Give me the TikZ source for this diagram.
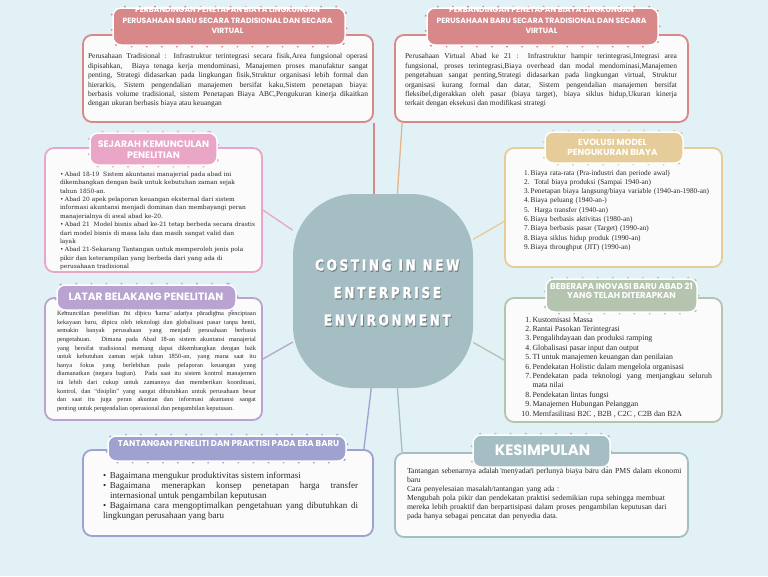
\documentclass[tikz,border=0pt]{standalone}
\usepackage{fontspec}
\setmainfont{Liberation Serif}
\newfontfamily\hdfont{Poppins}
\newfontfamily\sjfont{DejaVu Serif}
\newfontfamily\ctfont{DejaVu Sans}[FakeStretch=0.8,LetterSpace=18,FakeBold=1.2]
\usepackage{tikz}
\usetikzlibrary{calc}
\definecolor{BgBlue}{HTML}{E2F1F6}
\definecolor{BoxFill}{HTML}{FBFBFB}
\definecolor{TxtDark}{HTML}{2A2A2A}
\definecolor{Rose}{HTML}{D9888A}
\definecolor{Apricot}{HTML}{E3B58C}
\definecolor{Pink}{HTML}{E9A6C6}
\definecolor{Lilac}{HTML}{B9A3D1}
\definecolor{Peri}{HTML}{9FA1CF}
\definecolor{Sand}{HTML}{E5CC98}
\definecolor{Sage}{HTML}{B5C4AF}
\definecolor{Teal}{HTML}{A4BEC4}
\pgfdeclarelayer{bg}\pgfdeclarelayer{links}
\pgfsetlayers{bg,links,main}
\newcommand{\fs}[2]{\fontsize{#1}{#2}\selectfont}
\newcommand{\hdf}[2]{\hdfont\bfseries\fontsize{#1}{#2}\selectfont}
\newcommand{\butir}[2][6pt]{\par\hangindent=#1\hangafter=1\noindent\makebox[#1][l]{\textbullet}#2}
\newcommand{\nomor}[2]{\par\hangindent=12.5pt\hangafter=1\noindent\makebox[12.5pt][r]{#1.\,}#2}

\begin{document}
\begin{tikzpicture}[
        x=1pt, y=-1pt,
        box/.style={draw=#1, line width=1.8pt, fill=BoxFill, rounded corners=9pt},
        tab/.style={fill=#1, draw=white, line width=1.5pt, rounded corners=8pt,
                    preaction={draw=#1, line width=4.5pt, dash pattern=on 1.6pt off 13.5pt}},
        hd/.style={align=center, text=white, inner sep=0pt},
        txt/.style={text width=#1, align=justify, inner sep=0pt, text=TxtDark},
        ln/.style={draw=#1, line width=1.3pt},
      ]
        \useasboundingbox (0,0) rectangle (768,576);
        \begin{pgfonlayer}{bg}
          \fill[BgBlue] (0,0) rectangle (768,576);
        \end{pgfonlayer}
        % pusat
        \node[fill=Teal, rounded corners=62pt, minimum width=180, minimum height=194] (centre) at (383,291) {};
        \node[font=\ctfont\bfseries\fs{15}{27.5}, align=center, text=black!65, opacity=0.5] (ctshadow) at (388.2,293.8) {COSTING IN NEW\\ENTERPRISE\\ENVIRONMENT};
        \node[font=\ctfont\bfseries\fs{15}{27.5}, align=center, text=white] (ctitle) at (387.3,292.5) {COSTING IN NEW\\ENTERPRISE\\ENVIRONMENT};
        % kotak isi
        \node[box=Rose, minimum width=290, minimum height=87] (tl) at (228,78.5) {};
        \node[box=Rose, minimum width=293, minimum height=87] (tr) at (541.5,78.5) {};
        \node[box=Pink, minimum width=217, minimum height=124] (sj) at (153.5,210) {};
        \node[box=Lilac, minimum width=217, minimum height=122] (lt) at (153.5,359) {};
        \node[box=Peri, minimum width=290, minimum height=86] (tt) at (228,493) {};
        \node[box=Sand, minimum width=217, minimum height=119] (ev) at (613.5,207.5) {};
        \node[box=Sage, minimum width=217, minimum height=124] (inv) at (613.5,360) {};
        \node[box=Teal, minimum width=293, minimum height=84] (ks) at (541.5,495) {};
        % garis penghubung
        \begin{pgfonlayer}{links}
          \draw[ln=Rose] (tl.south east) -- ($(centre.north -| tl.south east)+(0,6)$);
          \draw[ln=Apricot] ($(tr.south west)+(8,0)$) -- ($(centre.north)+(14,6)$);
          \draw[ln=Pink] (sj.east) -- (centre);
          \draw[ln=Lilac] (lt.east) -- (centre);
          \draw[ln=Sand] ($(ev.west)+(0,14)$) -- (centre);
          \draw[ln=Sage] (inv.west) -- (centre);
          \draw[ln=Peri] ($(tt.north east)+(-10,0)$) -- ($(centre.south)+(-11,-6)$);
          \draw[ln=Teal] ($(ks.north west)+(8,0)$) -- ($(centre.south)+(14,-6)$);
        \end{pgfonlayer}
        % tab judul
        \node[tab=Rose, minimum width=232, minimum height=37] (tltab) at (229,26.5) {};
        \node[tab=Rose, minimum width=231, minimum height=37] (trtab) at (542.5,26.5) {};
        \node[tab=Pink, minimum width=127, minimum height=32] (sjtab) at (153.5,149) {};
        \node[tab=Lilac, minimum width=179, minimum height=25] (lttab) at (146.5,297.5) {};
        \node[tab=Peri, minimum width=238, minimum height=25] (tttab) at (227,448.5) {};
        \node[tab=Sand, minimum width=138, minimum height=31] (evtab) at (614,147.5) {};
        \node[tab=Sage, minimum width=151, minimum height=33] (invtab) at (621.5,295.5) {};
        \node[tab=Teal, minimum width=137, minimum height=32] (kstab) at (541.5,451) {};
        \node[hd, font=\hdf{7.6}{10.5}] (tlhd) at (227.5,20.5) {PERBANDINGAN PENETAPAN BIAYA LINGKUNGAN\\PERUSAHAAN BARU SECARA TRADISIONAL DAN SECARA\\VIRTUAL};
        \node[hd, font=\hdf{7.6}{10.5}] (trhd) at (541.5,20.5) {PERBANDINGAN PENETAPAN BIAYA LINGKUNGAN\\PERUSAHAAN BARU SECARA TRADISIONAL DAN SECARA\\VIRTUAL};
        \node[hd, font=\hdf{9.4}{11}] (sjhd) at (153.5,149.5) {SEJARAH KEMUNCULAN\\PENELITIAN};
        \node[hd, font=\hdf{10.6}{11}] (lthd) at (146,297) {LATAR BELAKANG PENELITIAN};
        \node[hd, font=\hdf{8.5}{9}] (tthd) at (228.5,443.5) {TANTANGAN PENELITI DAN PRAKTISI PADA ERA BARU};
        \node[hd, font=\hdf{8.8}{10}] (evhd) at (612.5,147) {EVOLUSI MODEL\\PENGUKURAN BIAYA};
        \node[hd, font=\hdf{8.5}{9}] (invhd) at (621.5,291) {BEBERAPA INOVASI BARU ABAD 21\\YANG TELAH DITERAPKAN};
        \node[hd, font=\hdf{15}{16}] (kshd) at (542.5,450) {KESIMPULAN};
        % teks
        \node[txt=280, font=\fs{7.5}{9.4}] (tltxt) at (228,80.5) {Perusahaan Tradisional : Infrastruktur terintegrasi secara fisik,Area fungsional operasi\linebreak dipisahkan,\ \ Biaya tenaga kerja mendominasi, Manajemen proses manufaktur sangat\linebreak penting, Strategi didasarkan pada lingkungan fisik,Struktur organisasi lebih formal dan\linebreak hierarkis, Sistem pengendalian manajemen bersifat kaku,Sistem penetapan biaya:\linebreak berbasis volume tradisional, sistem Penetapan Biaya ABC,Pengukuran kinerja dikaitkan\linebreak dengan ukuran berbasis biaya atau keuangan};
        \node[txt=272, font=\fs{7.5}{9.4}] (trtxt) at (541,80.5) {Perusahaan Virtual Abad ke 21 : Infrastruktur hampir terintegrasi,Integrasi area\linebreak fungsional, proses terintegrasi,Biaya overhead dan modal mendominasi,Manajemen\linebreak pengetahuan sangat penting,Strategi didasarkan pada lingkungan virtual, Struktur\linebreak organisasi kurang formal dan datar, Sistem pengendalian manajemen bersifat\linebreak fleksibel,digerakkan oleh pasar (biaya target), biaya siklus hidup,Ukuran kinerja\linebreak terkait dengan eksekusi dan modifikasi strategi};
        \node[txt=200, align=left, font=\sjfont\fs{5.9}{8.4}] (sjtxt) at (160,219) {%
          \butir[5pt]{Abad 18-19\ \ Sistem akuntansi manajerial pada abad ini\\dikembangkan dengan baik untuk kebutuhan zaman sejak\\tahun 1850-an.}%
          \butir[5pt]{Abad 20 apek pelaporan keuangan eksternal dari sistem\\informasi akuntansi menjadi dominan dan membayangi peran\\manajerialnya di awal abad ke-20.}%
          \butir[5pt]{Abad 21\ \ Model bisnis abad ke-21 tetap berbeda secara drastis\\dari model bisnis di masa lalu dan masih sangat valid dan\\layak}%
          \butir[5pt]{Abad 21-Sekarang Tantangan untuk memperoleh jenis pola\\pikir dan keterampilan yang berbeda dari yang ada di\\perusahaan tradisional}};
        \node[txt=199, font=\fs{6.4}{8.6}] (lttxt) at (156.5,361.5) {Kemunculan penelitian ini dipicu karna adanya paradigma penciptaan\linebreak kekayaan baru, dipicu oleh teknologi dan globalisasi pasar tanpa henti,\linebreak semakin banyak perusahaan yang menjadi perusahaan berbasis\linebreak pengetahuan. Dimana pada Abad 18-an sistem akuntansi manajerial\linebreak yang bersifat tradisional memang dapat dikembangkan dengan baik\linebreak untuk kebutuhan zaman sejak tahun 1850-an, yang mana saat itu\linebreak hanya fokus yang berlebihan pada pelaporan keuangan yang\linebreak diamanatkan (negara bagian). Pada saat itu sistem kontrol manajemen\linebreak ini lebih dari cukup untuk zamannya dan memberikan koordinasi,\linebreak kontrol, dan ``disiplin'' yang sangat dibutuhkan untuk perusahaan besar\linebreak dan saat itu juga peran akuntan dan informasi akuntansi sangat\linebreak penting untuk pengendalian operasional dan pengambilan keputusan.};
        \node[txt=255, font=\fs{9}{10}] (tttxt) at (230.5,494.5) {%
          \butir[7pt]{Bagaimana mengukur produktivitas sistem informasi}%
          \butir[7pt]{Bagaimana menerapkan konsep penetapan harga transfer\linebreak internasional untuk pengambilan keputusan}%
          \butir[7pt]{Bagaimana cara mengoptimalkan pengetahuan yang dibutuhkan di\linebreak lingkungan perusahaan yang baru}};
        \node[txt=198, align=left, font=\fs{7.3}{9.3}] (evtxt) at (623,210.5) {1.\,Biaya rata-rata (Pra-industri dan periode awal)\\2.\ \ Total biaya produksi (Sampai 1940-an)\\3.\,Penetapan biaya langsung/biaya variable (1940-an-1980-an)\\4.\,Biaya peluang (1940-an-)\\5.\ \ Harga transfer (1940-an)\\6.\,Biaya berbasis aktivitas (1980-an)\\7.\,Biaya berbasis pasar (Target) (1990-an)\\8.\,Biaya siklus hidup produk (1990-an)\\9.\,Biaya throughput (JIT) (1990-an)};
        \node[txt=192, font=\fs{7.8}{9.4}] (invtxt) at (616,365) {%
          \nomor{1}{Kustomisasi Massa}\nomor{2}{Rantai Pasokan Terintegrasi}%
          \nomor{3}{Pengalihdayaan dan produksi ramping}\nomor{4}{Globalisasi pasar input dan output}%
          \nomor{5}{TI untuk manajemen keuangan dan penilaian}\nomor{6}{Pendekatan Holistic dalam mengelola organisasi}%
          \nomor{7}{Pendekatan pada teknologi yang menjangkau seluruh\linebreak mata nilai}%
          \nomor{8}{Pendekatan lintas fungsi}\nomor{9}{Manajemen Hubungan Pelanggan}%
          \nomor{10}{Memfasilitasi B2C , B2B , C2C , C2B dan B2A}};
        \node[txt=278, align=left, font=\fs{7.7}{9}] (kstxt) at (546,494.5) {Tantangan sebenarnya adalah menyadari perlunya biaya baru dan PMS dalam ekonomi\\baru\\Cara penyelesaian masalah/tantangan yang ada :\\Mengubah pola pikir dan pendekatan praktisi sedemikian rupa sehingga membuat\\mereka lebih proaktif dan berpartisipasi dalam proses pengambilan keputusan dari\\pada hanya sebagai pencatat dan penyedia data.};
      \end{tikzpicture}
\end{document}
